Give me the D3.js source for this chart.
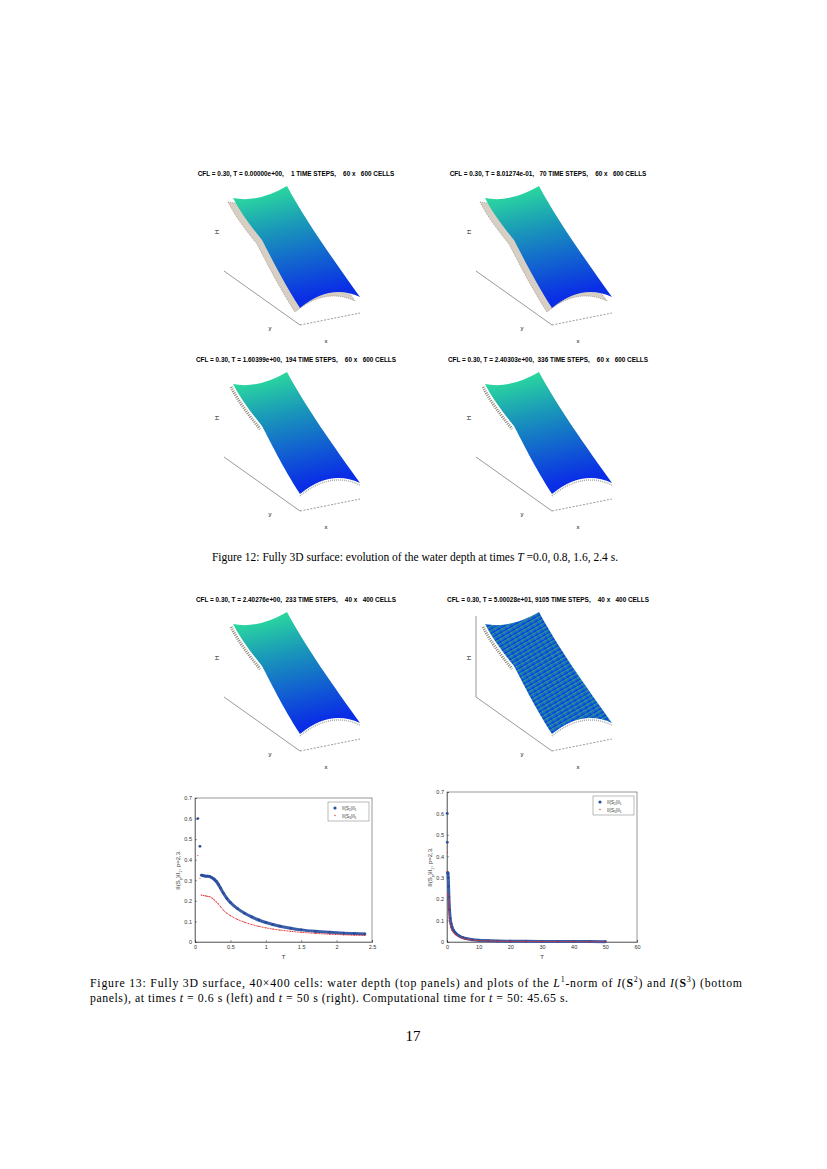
<!DOCTYPE html>
<html><head><meta charset="utf-8">
<script src="https://cdn.jsdelivr.net/npm/d3@7"></script>
<style>body{margin:0;background:#fff}</style>
</head><body><svg id="page" width="827" height="1169"></svg>
<script>
// panel titles
const surfaceTitles = [
  'CFL = 0.30, T = 0.00000e+00,    1 TIME STEPS,    60 x   600 CELLS',
  'CFL = 0.30, T = 8.01274e-01,   70 TIME STEPS,    60 x   600 CELLS',
  'CFL = 0.30, T = 1.60399e+00,  194 TIME STEPS,    60 x   600 CELLS',
  'CFL = 0.30, T = 2.40303e+00,  336 TIME STEPS,    60 x   600 CELLS',
  'CFL = 0.30, T = 2.40276e+00,  233 TIME STEPS,    40 x   400 CELLS',
  'CFL = 0.30, T = 5.00028e+01, 9105 TIME STEPS,    40 x   400 CELLS'
]
const panelCols = [0, 252, 0, 252, 0, 252]
const panelRows = [0, 0, 186, 186, 426, 426]
const panelEdge = ['rough', 'rough', 'hatch', 'hatch', 'hatch', 'stripes']

// left norm plot (t up to 2.4)
const leftT  = [0.04, 0.07, 0.09, 0.12, 0.15, 0.18, 0.21, 0.24, 0.27, 0.30, 0.33, 0.36, 0.40, 0.45, 0.50, 0.60, 0.70, 0.80, 0.90, 1.00, 1.10, 1.20, 1.35, 1.50, 1.70, 1.90, 2.10, 2.25, 2.40]
const leftS2 = [0.60, 0.465, 0.325, 0.322, 0.320, 0.320, 0.318, 0.312, 0.305, 0.295, 0.280, 0.262, 0.238, 0.212, 0.192, 0.162, 0.140, 0.122, 0.107, 0.095, 0.085, 0.077, 0.067, 0.059, 0.052, 0.047, 0.043, 0.041, 0.039]
const leftS3 = [0.42, 0.31, 0.228, 0.226, 0.224, 0.222, 0.220, 0.214, 0.205, 0.195, 0.185, 0.172, 0.155, 0.140, 0.128, 0.110, 0.096, 0.085, 0.076, 0.069, 0.063, 0.058, 0.052, 0.047, 0.042, 0.038, 0.035, 0.033, 0.032]
const leftXTicks = [0, 0.5, 1, 1.5, 2, 2.5]

// right norm plot (t up to 50)
const rightT  = [0.05, 0.1, 0.2, 0.3, 0.4, 0.5, 0.6, 0.8, 1.0, 1.3, 1.6, 2.0, 2.5, 3, 4, 5, 6, 8, 10, 13, 16, 20, 25, 30, 35, 40, 45, 50]
const rightS2 = [0.60, 0.465, 0.325, 0.32, 0.30, 0.26, 0.21, 0.15, 0.11, 0.085, 0.068, 0.055, 0.045, 0.037, 0.027, 0.020, 0.016, 0.011, 0.008, 0.006, 0.0045, 0.0035, 0.003, 0.0025, 0.002, 0.002, 0.0018, 0.0015]
const rightS3 = [0.42, 0.33, 0.225, 0.22, 0.21, 0.19, 0.16, 0.12, 0.085, 0.066, 0.054, 0.045, 0.037, 0.031, 0.023, 0.017, 0.013, 0.009, 0.007, 0.005, 0.004, 0.003, 0.0025, 0.002, 0.0018, 0.0015, 0.0013, 0.0012]
const rightXTicks = [0, 10, 20, 30, 40, 50, 60]
const yTicks = [0, 0.1, 0.2, 0.3, 0.4, 0.5, 0.6, 0.7]

const svg = d3.select('#page')
const defs = svg.append('defs')
const grad = defs.append('linearGradient').attr('id', 'hgrad')
  .attr('x1', 0).attr('y1', 0).attr('x2', 0.25).attr('y2', 1)
grad.append('stop').attr('offset', '0%').attr('stop-color', '#30ec96')
grad.append('stop').attr('offset', '40%').attr('stop-color', '#1a9ab8')
grad.append('stop').attr('offset', '100%').attr('stop-color', '#0a2ee6')
const stripes = defs.append('pattern').attr('id', 'stripes').attr('patternUnits', 'userSpaceOnUse')
  .attr('width', 6).attr('height', 4).attr('patternTransform', 'rotate(-30)')
stripes.append('rect').attr('width', 6).attr('height', 4).attr('fill', 'url(#hgrad)')
stripes.append('line').attr('x1', 0).attr('x2', 6).attr('y1', 1).attr('y2', 1)
  .attr('stroke', '#2a3a70').attr('stroke-width', 1).attr('opacity', 0.6)

const surfacePath = 'M233,198 Q258,203 287,186 C305,220 335,262 360,297 Q330,283 300,308 C282,280 270,255 262,240 C250,225 240,212 233,198 Z'

function drawSurface (i) {
  const g = svg.append('g').attr('transform', `translate(${panelCols[i]},${panelRows[i]})`)
  g.append('text').attr('x', 296).attr('y', 176).attr('text-anchor', 'middle')
    .attr('font-family', 'Liberation Sans, Arial, sans-serif').attr('font-size', 6.4).attr('font-weight', 'bold')
    .attr('xml:space', 'preserve').text(surfaceTitles[i])
  // axis box lines
  g.append('line').attr('x1', 224).attr('y1', 271).attr('x2', 300).attr('y2', 325).attr('stroke', '#555').attr('stroke-width', 0.6)
  g.append('line').attr('x1', 300).attr('y1', 325).attr('x2', 360).attr('y2', 313).attr('stroke', '#555').attr('stroke-width', 0.6).attr('stroke-dasharray', '2,1.5')
  if (i === 5) g.append('line').attr('x1', 224).attr('y1', 271).attr('x2', 224).attr('y2', 190).attr('stroke', '#555').attr('stroke-width', 0.6)
  const lab = (x, y, t) => g.append('text').attr('x', x).attr('y', y).attr('font-family', 'Liberation Sans, Arial, sans-serif').attr('font-size', 6).attr('text-anchor', 'middle').text(t)
  lab(217, 234, 'H').attr('transform', 'rotate(90,217,232)')
  lab(270, 330, 'y')
  lab(326, 343, 'x')
  // edge decoration
  if (panelEdge[i] === 'rough') {
    g.append('path').attr('d', surfacePath).attr('transform', 'translate(-5,4)')
      .attr('fill', '#d8cfc4').attr('stroke', '#9a8f86').attr('stroke-width', 0.8).attr('stroke-dasharray', '1,1')
  } else {
    g.append('path').attr('d', 'M233,198 C240,212 250,225 262,240').attr('transform', 'translate(-2,3)')
      .attr('fill', 'none').attr('stroke', '#8a8070').attr('stroke-width', 3).attr('stroke-dasharray', '1,1.2')
    g.append('path').attr('d', 'M300,308 Q330,283 360,297').attr('transform', 'translate(0,2)')
      .attr('fill', 'none').attr('stroke', '#aaa').attr('stroke-width', 1.5).attr('stroke-dasharray', '1,1')
  }
  g.append('path').attr('d', surfacePath).attr('fill', panelEdge[i] === 'stripes' ? 'url(#stripes)' : 'url(#hgrad)')
}
surfaceTitles.forEach((t, i) => drawSurface(i))

function drawNorm (x0, x1, y0, y1, xMax, xTicks, T, s2, s3) {
  const x = d3.scaleLinear().domain([0, xMax]).range([x0, x1])
  const y = d3.scaleLinear().domain([0, 0.7]).range([y0, y1])
  const fmt = d3.format('~g')
  const g = svg.append('g').attr('font-family', 'Liberation Sans, Arial, sans-serif')
  g.append('rect').attr('x', x0).attr('y', y1).attr('width', x1 - x0).attr('height', y0 - y1)
    .attr('fill', 'none').attr('stroke', '#333').attr('stroke-width', 0.5)
  g.append('g').attr('transform', `translate(0,${y0})`)
    .call(d3.axisBottom(x).tickValues(xTicks).tickFormat(fmt).tickSize(-2).tickPadding(3))
  g.append('g').attr('transform', `translate(${x0},0)`)
    .call(d3.axisLeft(y).tickValues(yTicks).tickFormat(fmt).tickSize(-2).tickPadding(3))
  g.selectAll('.domain').attr('stroke', '#333').attr('stroke-width', 0.5)
  g.selectAll('.tick line').attr('stroke', '#333').attr('stroke-width', 0.5)
  g.selectAll('.tick text').attr('font-size', 5.5).attr('fill', '#333')
  g.append('text').attr('x', (x0 + x1) / 2).attr('y', y0 + 17).attr('text-anchor', 'middle').attr('font-size', 6).attr('fill', '#333').text('T')
  const ylab = g.append('text').attr('transform', `translate(${x0 - 15},${(y0 + y1) / 2}) rotate(-90)`)
    .attr('text-anchor', 'middle').attr('font-size', 6).attr('fill', '#333')
  ylab.append('tspan').text('II(S')
  ylab.append('tspan').attr('font-size', 4).attr('dy', 1.5).text('p')
  ylab.append('tspan').attr('dy', -1.5).text(')II')
  ylab.append('tspan').attr('font-size', 4).attr('dy', 1.5).text('1')
  ylab.append('tspan').attr('dy', -1.5).text(', p=2,3.')
  g.append('path').datum(s2.slice(2)).attr('d', d3.line().x((d, i) => x(T[i + 2])).y(d => y(d)).curve(d3.curveMonotoneX))
    .attr('fill', 'none').attr('stroke', '#3a5ea8').attr('stroke-width', 3)
  g.selectAll('.b').data(s2).join('circle').attr('cx', (d, i) => x(T[i])).attr('cy', d => y(d)).attr('r', 1.4).attr('fill', '#2a4c9c')
  g.append('path').datum(s3.slice(2)).attr('d', d3.line().x((d, i) => x(T[i + 2])).y(d => y(d)).curve(d3.curveMonotoneX))
    .attr('fill', 'none').attr('stroke', '#e03030').attr('stroke-width', 1).attr('stroke-dasharray', '1,0.6')
  g.selectAll('.r').data(s3).join('circle').attr('cx', (d, i) => x(T[i])).attr('cy', d => y(d)).attr('r', 0.6).attr('fill', '#e03030')
  // legend
  const lx = x1 - 44, ly = y1 + 4
  g.append('rect').attr('x', lx).attr('y', ly).attr('width', 41).attr('height', 19).attr('fill', '#fff').attr('stroke', '#555').attr('stroke-width', 0.4)
  const items = [['2', '#2a4c9c', 1.6], ['3', '#e03030', 0.7]]
  items.forEach(([p, c, r], k) => {
    g.append('circle').attr('cx', lx + 7).attr('cy', ly + 6 + k * 7.5).attr('r', r).attr('fill', c)
    const t = g.append('text').attr('x', lx + 14).attr('y', ly + 8 + k * 7.5).attr('font-size', 4.5).attr('fill', '#333')
    t.append('tspan').text('II(S')
    t.append('tspan').attr('font-size', 3).attr('dy', 1).text(p)
    t.append('tspan').attr('dy', -1).text(')II')
    t.append('tspan').attr('font-size', 3).attr('dy', 1).text('1')
  })
}
drawNorm(195, 372, 942, 798, 2.5, leftXTicks, leftT, leftS2, leftS3)
drawNorm(447, 637, 942, 792, 60, rightXTicks, rightT, rightS2, rightS3)

// captions
const serif = 'Liberation Serif, DejaVu Serif, serif'
svg.append('text').attr('x', 415).attr('y', 561).attr('text-anchor', 'middle').attr('font-family', serif).attr('font-size', 11.5)
  .html('Figure 12: Fully 3D surface: evolution of the water depth at times <tspan font-style="italic">T</tspan> =0.0, 0.8, 1.6, 2.4 s.')
svg.append('text').attr('x', 90).attr('y', 987).attr('font-family', serif).attr('font-size', 11.8).attr('textLength', 652).attr('lengthAdjust', 'spacing')
  .html('Figure 13: Fully 3D surface, 40×400 cells: water depth (top panels) and plots of the <tspan font-style="italic">L</tspan><tspan font-size="8" dy="-5">1</tspan><tspan dy="5">-norm of </tspan><tspan font-style="italic">I</tspan>(<tspan font-weight="bold">S</tspan><tspan font-size="8" dy="-5">2</tspan><tspan dy="5">) and </tspan><tspan font-style="italic">I</tspan>(<tspan font-weight="bold">S</tspan><tspan font-size="8" dy="-5">3</tspan><tspan dy="5">) (bottom</tspan>')
svg.append('text').attr('x', 90).attr('y', 1002).attr('font-family', serif).attr('font-size', 11.8).attr('textLength', 478).attr('lengthAdjust', 'spacing')
  .html('panels), at times <tspan font-style="italic">t</tspan> = 0.6 s (left) and <tspan font-style="italic">t</tspan> = 50 s (right). Computational time for <tspan font-style="italic">t</tspan> = 50: 45.65 s.')
svg.append('text').attr('x', 413).attr('y', 1041).attr('text-anchor', 'middle').attr('font-family', serif).attr('font-size', 15).text('17')
</script></body></html>
